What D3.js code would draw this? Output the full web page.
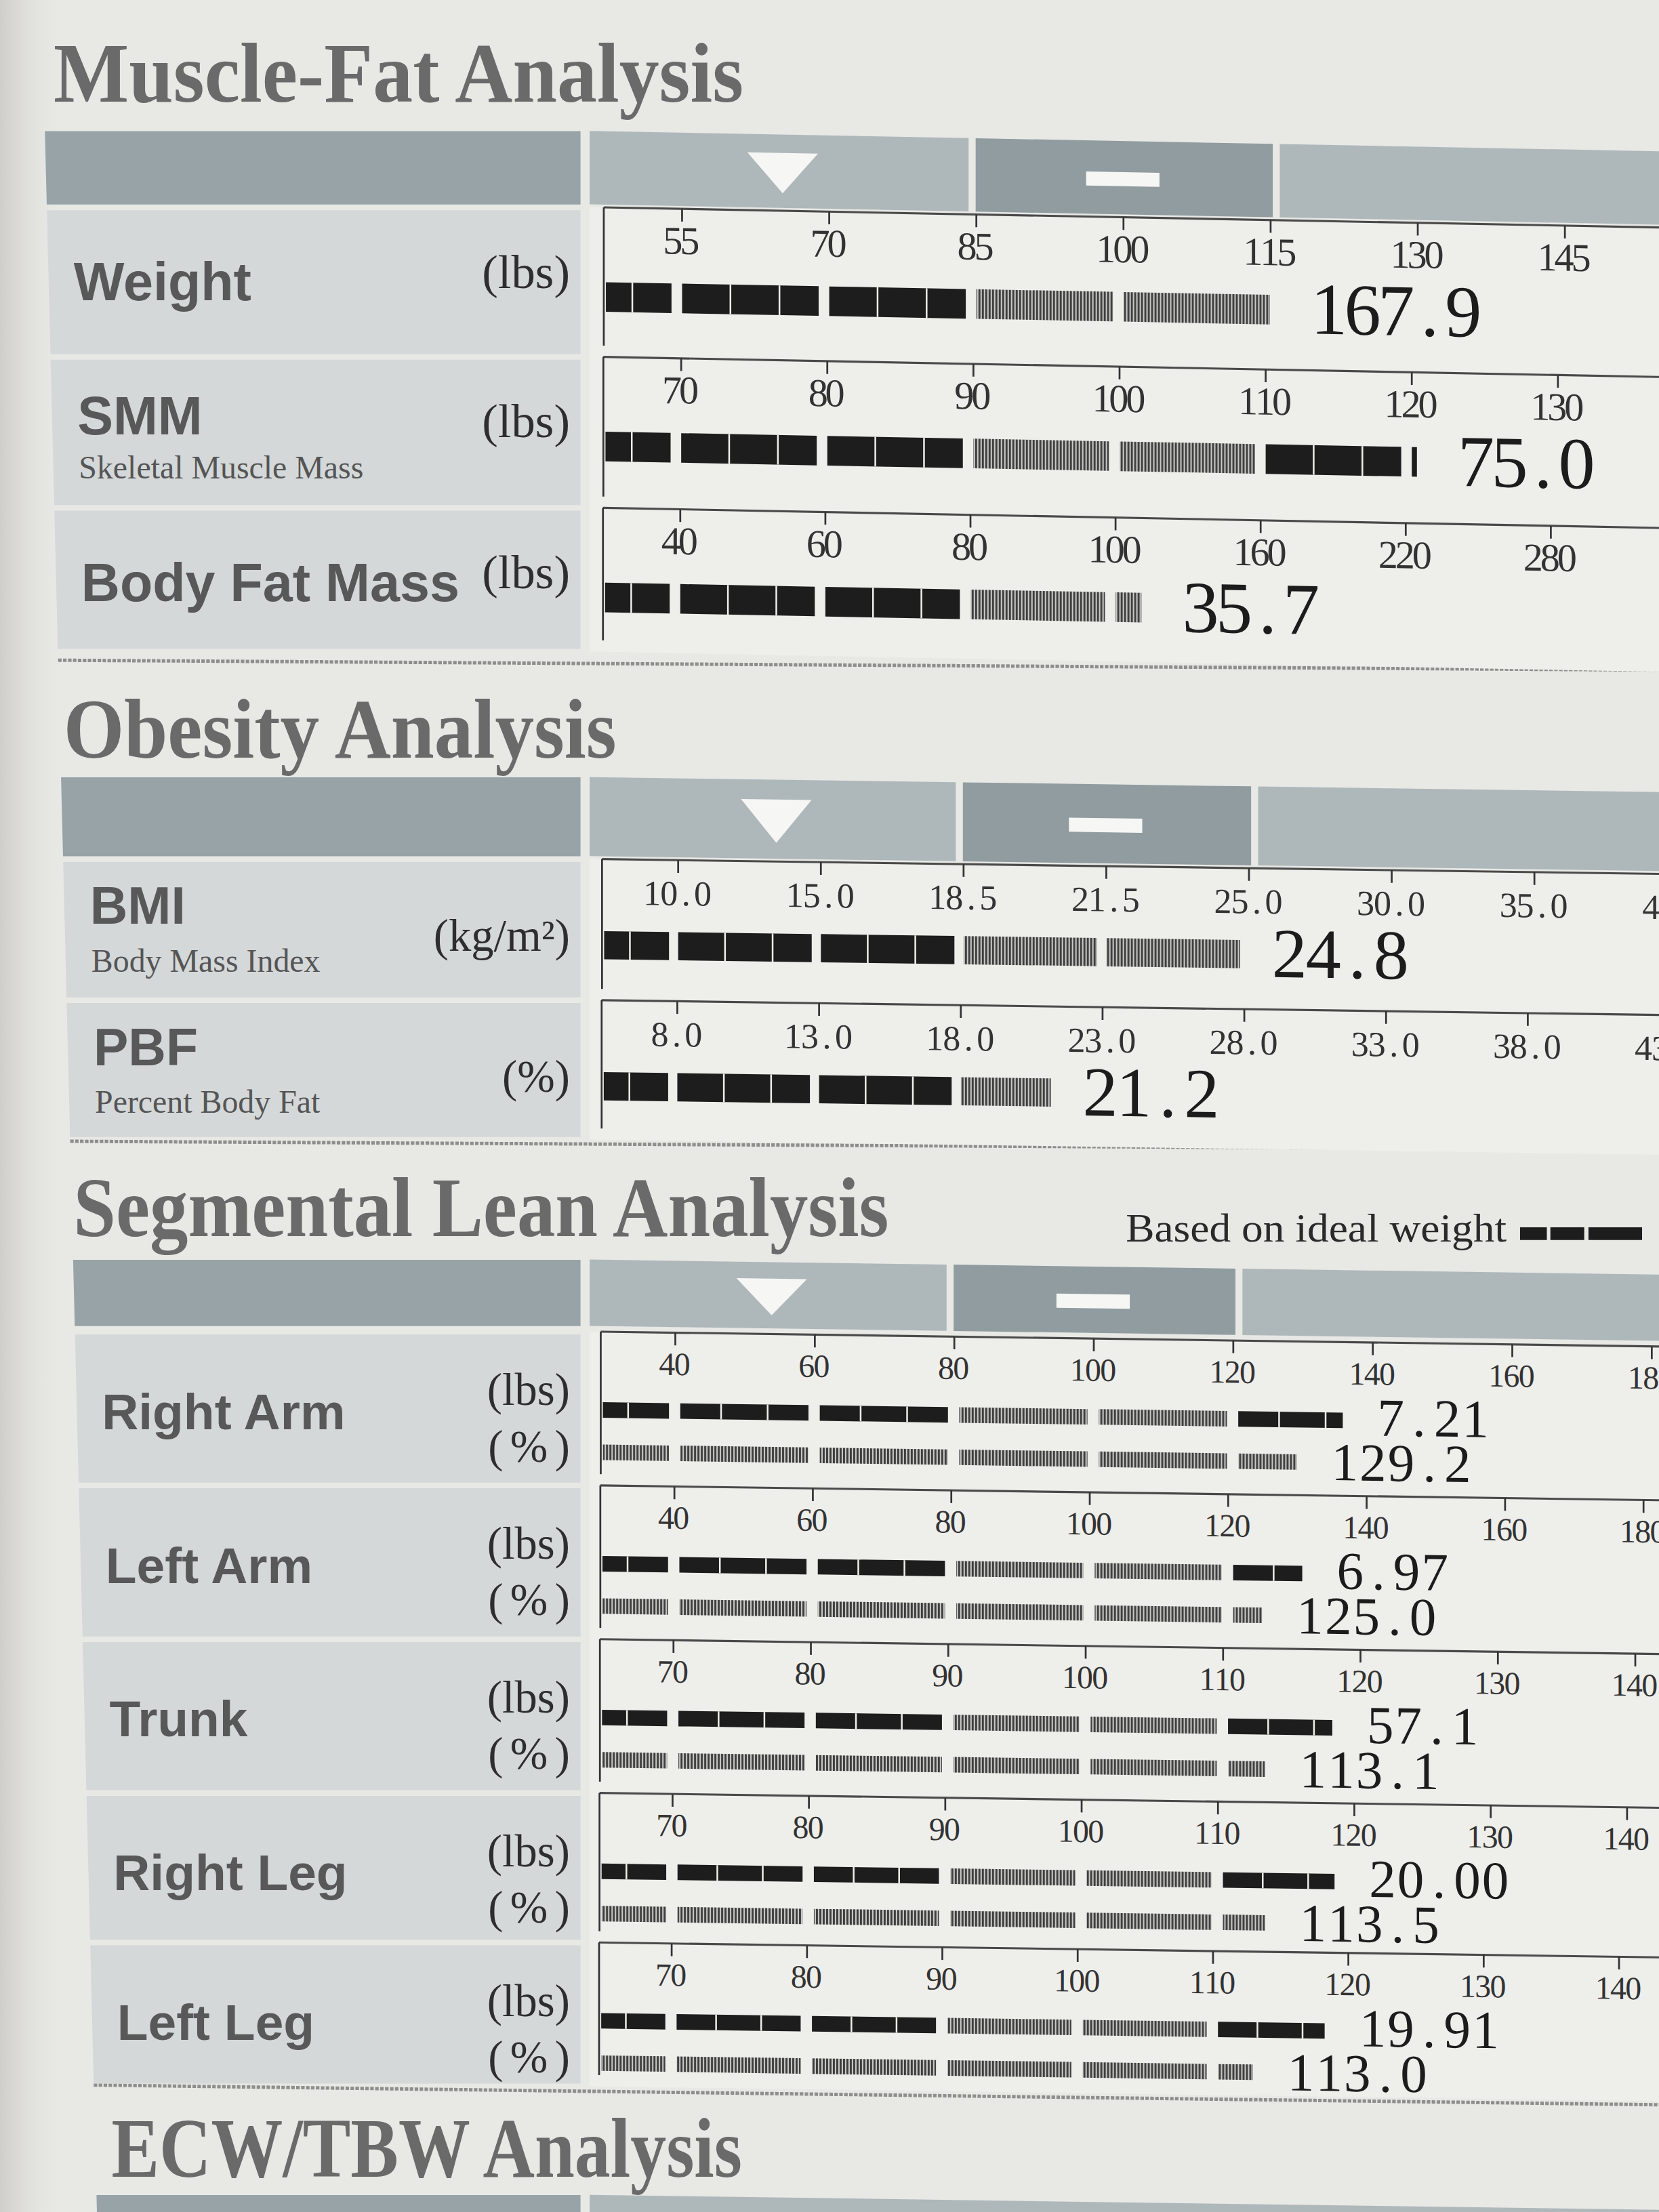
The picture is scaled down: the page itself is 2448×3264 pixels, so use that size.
<!DOCTYPE html>
<html>
<head>
<meta charset="utf-8">
<script src="https://cdnjs.cloudflare.com/ajax/libs/d3/7.8.5/d3.min.js"></script>
<style>
html, body { margin: 0; padding: 0; background: #e8e8e5; }
svg { display: block; }
</style>
</head>
<body>
<div id="sheet"></div>
<script>
// ---- values ----

// Muscle-Fat Analysis
var mfLabels = ["Weight", "SMM", "Body Fat Mass"];
var mfSubLabels = ["", "Skeletal Muscle Mass", ""];
var mfUnits = ["(lbs)", "(lbs)", "(lbs)"];
var mfTicks = [
    [55, 70, 85, 100, 115, 130, 145],
    [70, 80, 90, 100, 110, 120, 130],
    [40, 60, 80, 100, 160, 220, 280]
];
var mfNormal = [[85, 115], [90, 110], [80, 160]];
var mfBarEnd = [115, 120.4, 111];
var mfValues = ["167.9", "75.0", "35.7"];

// Obesity Analysis
var obLabels = ["BMI", "PBF"];
var obSubLabels = ["Body Mass Index", "Percent Body Fat"];
var obUnits = ["(kg/m²)", "(%)"];
var obTicks = [
    [10, 15, 18.5, 21.5, 25, 30, 35, 40],
    [8, 13, 18, 23, 28, 33, 38, 43]
];
var obNormal = [[18.5, 25], [18, 28]];
var obValues = [24.8, 21.2];

// Segmental Lean Analysis
var slLabels = ["Right Arm", "Left Arm", "Trunk", "Right Leg", "Left Leg"];
var slTicks = [
    [40, 60, 80, 100, 120, 140, 160, 180],
    [40, 60, 80, 100, 120, 140, 160, 180],
    [70, 80, 90, 100, 110, 120, 130, 140],
    [70, 80, 90, 100, 110, 120, 130, 140],
    [70, 80, 90, 100, 110, 120, 130, 140]
];
var slNormal = [[80, 120], [80, 120], [90, 110], [90, 110], [90, 110]];
var slLbsBar = [135.8, 130.8, 118.0, 118.6, 118.3];
var slLbsValues = ["7.21", "6.97", "57.1", "20.00", "19.91"];
var slPctValues = [129.2, 125.0, 113.1, 113.5, 113.0];

// ---- layout (drawn in photo units 1176 x 1568, then scaled up) ----
var svgWidth = 2448;
var svgHeight = 3264;
var W = 1176, H = 1568;
var k = svgWidth / W;
var boxRight = 411.5;
var bandStart = 418;

// the sheet is photographed at a slight angle, so things drift a little
function leftEdge(y) { return 32 + 0.025 * (y - 100); }
function axisLeft(T) { return 428 - 0.0027 * (T - 147); }
function firstTick(T) { return 483 - 0.006 * (T - 147); }
function tickStep(T) { return 104.3 - 0.0068 * (T - 147); }

function slab(y0, y1) {
    return [[leftEdge(y0), y0], [boxRight, y0], [boxRight, y1], [leftEdge(y1), y1]].join(" ");
}

function rowScale(ticks, T) {
    return d3.scaleLinear()
        .domain(ticks)
        .range(ticks.map((d, i) => firstTick(T) + i * tickStep(T)));
}

var svg = d3.select("#sheet").append("svg")
    .attr("width", svgWidth)
    .attr("height", svgHeight);

var defs = svg.append("defs");

// vertical hatching used by the in-range blocks
var hatch = defs.append("pattern")
    .attr("id", "hatch")
    .attr("patternUnits", "userSpaceOnUse")
    .attr("width", 2.4)
    .attr("height", 10);
hatch.append("rect").attr("width", 2.4).attr("height", 10).attr("fill", "#c9c9c6");
hatch.append("rect").attr("width", 1.4).attr("height", 10).attr("fill", "#3e3e3e");

var shade = defs.append("linearGradient").attr("id", "shade");
shade.append("stop").attr("offset", "0%").attr("stop-color", "#cfceca");
shade.append("stop").attr("offset", "100%").attr("stop-color", "#e8e8e5").attr("stop-opacity", 0);

var page = svg.append("g")
    .attr("transform", `scale(${k})`);

page.append("rect")
    .attr("width", W)
    .attr("height", H)
    .attr("fill", "#e8e8e5");

page.append("rect")
    .attr("width", 48)
    .attr("height", H)
    .attr("fill", "url(#shade)");

// text laid out one character per cell, like the printer font
function cellText(g, str, xLeft, y, cell, size, color) {
    var t = g.append("text")
        .attr("y", y)
        .attr("font-family", "Liberation Serif, serif")
        .attr("font-size", size)
        .attr("fill", color)
        .attr("text-anchor", "middle");
    t.selectAll("tspan")
        .data(str.split(""))
        .join("tspan")
        .attr("x", (c, i) => xLeft + (i + 0.5) * cell)
        .text(c => c);
    return t;
}

// one bar: blocks between ticks, black outside the normal range, hatched inside
function drawBar(g, x, T, ticks, normal, end, solid, y0, y1, gap) {
    var start = x.invert(axisLeft(T));
    var step = tickStep(T);
    var cuts = [start].concat(ticks.filter(t => t > start && t < end), [end]);
    var blocks = d3.pairs(cuts).map(function(p) {
        var isTickA = ticks.indexOf(p[0]) >= 0;
        var isTickB = p[1] !== end && ticks.indexOf(p[1]) >= 0;
        var inRange = p[0] >= normal[0] && p[1] <= normal[1];
        return {
            x0: isTickA ? x(p[0]) + gap[0] : x(p[0]) + 1.5,
            x1: isTickB ? x(p[1]) - gap[1] : x(p[1]),
            origin: isTickA ? x(p[0]) : x(ticks[0]) - step,
            black: solid && !inRange
        };
    });

    g.selectAll(null)
        .data(blocks)
        .enter()
        .append("rect")
        .attr("x", d => d.x0)
        .attr("y", y0)
        .attr("width", d => Math.max(0.8, d.x1 - d.x0))
        .attr("height", y1 - y0)
        .attr("fill", d => d.black ? "#1d1d1d" : "url(#hatch)");

    // thin white splits inside the black blocks
    var splits = [];
    blocks.filter(d => d.black).forEach(function(d) {
        [1, 2, 3].forEach(function(j) {
            var px = d.origin + j * step / 3;
            if (px > d.x0 + 2 && px < d.x1 - 2) splits.push(px);
        });
    });
    g.selectAll(null)
        .data(splits)
        .enter()
        .append("rect")
        .attr("x", d => d - 0.6)
        .attr("y", y0)
        .attr("width", 1.2)
        .attr("height", y1 - y0)
        .attr("fill", "#eeeeeb");
}

function drawSection(sec, rows) {
    var T0 = sec.tops[0];

    page.append("text")
        .attr("x", sec.titleX)
        .attr("y", sec.titleY)
        .attr("textLength", sec.titleW)
        .attr("lengthAdjust", "spacingAndGlyphs")
        .attr("font-family", "Liberation Serif, serif")
        .attr("font-weight", "bold")
        .attr("font-size", 60)
        .attr("fill", "#6a6a6a")
        .text(sec.title);

    // header band, label side
    page.append("polygon")
        .attr("points", slab(sec.band[0], sec.band[1]))
        .attr("fill", "#97a3a7");

    // dotted rule closing the section
    page.append("line")
        .attr("x1", leftEdge(sec.rule[0]))
        .attr("x2", W)
        .attr("y1", sec.rule[0])
        .attr("y2", sec.rule[1])
        .attr("stroke", "#8e8e8c")
        .attr("stroke-width", 2.4)
        .attr("stroke-dasharray", "2.5,1");

    // the chart side follows the tilt of the sheet
    var chart = page.append("g")
        .attr("transform", `matrix(1,${sec.skew},0,1,0,${-sec.skew * 428})`);

    chart.append("rect")
        .attr("x", bandStart)
        .attr("y", T0)
        .attr("width", W + 60 - bandStart)
        .attr("height", sec.bottom - T0)
        .attr("fill", "#eeeeeb");

    var xb = rowScale(rows[0].ticks, T0);
    var lo = xb(rows[0].normal[0]);
    var hi = xb(rows[0].normal[1]);
    var bandH = sec.band[1] - sec.band[0];

    chart.append("rect")
        .attr("x", bandStart).attr("y", sec.band[0])
        .attr("width", lo - 5 - bandStart).attr("height", bandH)
        .attr("fill", "#aeb8bb");
    chart.append("rect")
        .attr("x", lo).attr("y", sec.band[0])
        .attr("width", hi + 2 - lo).attr("height", bandH)
        .attr("fill", "#909ca0");
    chart.append("rect")
        .attr("x", hi + 7).attr("y", sec.band[0])
        .attr("width", W + 60 - hi).attr("height", bandH)
        .attr("fill", "#aeb8bb");

    var triX = (bandStart + lo) / 2;
    var triTop = sec.band[0] + bandH * 0.25;
    var triBottom = sec.band[0] + bandH * 0.8;
    chart.append("polygon")
        .attr("points", [[triX - 25, triTop], [triX + 25, triTop], [triX, triBottom]].join(" "))
        .attr("fill", "#f6f6f4");

    var dashX = (lo + hi) / 2;
    chart.append("rect")
        .attr("x", dashX - 26)
        .attr("y", sec.band[0] + bandH / 2 - 4)
        .attr("width", 52)
        .attr("height", 10)
        .attr("fill", "#f6f6f4");

    rows.forEach(function(row, i) {
        var T = sec.tops[i];
        var next = i < rows.length - 1 ? sec.tops[i + 1] : sec.bottom;
        var x = rowScale(row.ticks, T);
        var left = axisLeft(T);
        var boxTop = T + 2;
        var boxBottom = next - 2;

        // label box
        page.append("polygon")
            .attr("points", slab(boxTop, boxBottom))
            .attr("fill", "#d4d8d9");

        var lx = leftEdge(boxTop) + 19;
        page.append("text")
            .attr("x", lx)
            .attr("y", boxTop + (row.sub ? sec.labelSubY[0] : sec.labelY))
            .attr("font-family", "Liberation Sans, Arial, sans-serif")
            .attr("font-weight", "bold")
            .attr("font-size", sec.labelFont)
            .attr("fill", "#585858")
            .text(row.label);

        if (row.sub) {
            page.append("text")
                .attr("x", lx + 1)
                .attr("y", boxTop + sec.labelSubY[1])
                .attr("font-family", "Liberation Serif, serif")
                .attr("font-size", 23)
                .attr("fill", "#555")
                .text(row.sub);
        }

        row.units.forEach(function(u, j) {
            var t = page.append("text")
                .attr("x", 404)
                .attr("y", boxTop + sec.unitY[j])
                .attr("text-anchor", "end")
                .attr("font-family", "Liberation Serif, serif")
                .attr("font-size", sec.unitFont)
                .attr("fill", "#2e2e2e")
                .text(u);
            if (u === "(%)" && sec.unitY.length > 1) {
                t.attr("textLength", 58).attr("lengthAdjust", "spacing");
            }
        });

        // scale line along the top of the row and the left edge
        chart.append("line")
            .attr("x1", left).attr("x2", W + 60)
            .attr("y1", T).attr("y2", T)
            .attr("stroke", "#4a4a4a")
            .attr("stroke-width", 1.5);
        chart.append("line")
            .attr("x1", left).attr("x2", left)
            .attr("y1", T).attr("y2", next - 8)
            .attr("stroke", "#333")
            .attr("stroke-width", 1.3);

        var tickAxis = d3.axisBottom(x)
            .tickValues(row.ticks)
            .tickSize(9)
            .tickFormat("");
        var axisG = chart.append("g")
            .attr("transform", `translate(0, ${T})`)
            .call(tickAxis);
        axisG.select(".domain").remove();
        axisG.selectAll(".tick line")
            .attr("stroke", "#333")
            .attr("stroke-width", 1.3);

        row.ticks.forEach(function(t) {
            var s = sec.tickFormat(t);
            cellText(chart, s, x(t) - s.length * sec.tickCell / 2, T + sec.tickY,
                sec.tickCell, sec.tickFont, "#333");
        });

        row.bars.forEach(function(b, j) {
            var pos = sec.bars[j];
            drawBar(chart, x, T, row.ticks, row.normal, b.end, b.solid,
                T + pos.y[0], T + pos.y[1], sec.gap);
            cellText(chart, b.text, x(b.end) + sec.valueGap, T + pos.textY,
                sec.valueCell, sec.valueFont, "#1c1c1c");
        });
    });

    return chart;
}

// ---- rows built from the arrays ----
var mfRows = mfLabels.map((d, i) => ({
    label: d,
    sub: mfSubLabels[i],
    units: [mfUnits[i]],
    ticks: mfTicks[i],
    normal: mfNormal[i],
    bars: [{ end: mfBarEnd[i], solid: true, text: mfValues[i] }]
}));

var obRows = obLabels.map((d, i) => ({
    label: d,
    sub: obSubLabels[i],
    units: [obUnits[i]],
    ticks: obTicks[i],
    normal: obNormal[i],
    bars: [{ end: obValues[i], solid: true, text: d3.format(".1f")(obValues[i]) }]
}));

var slRows = slLabels.map((d, i) => ({
    label: d,
    sub: "",
    units: ["(lbs)", "(%)"],
    ticks: slTicks[i],
    normal: slNormal[i],
    bars: [
        { end: slLbsBar[i], solid: true, text: slLbsValues[i] },
        { end: slPctValues[i], solid: false, text: d3.format(".1f")(slPctValues[i]) }
    ]
}));

drawSection({
    title: "Muscle-Fat Analysis", titleX: 38, titleY: 72, titleW: 489,
    band: [93, 145], tops: [147, 253, 360], bottom: 462, rule: [468, 475], skew: 0.019,
    labelFont: 38, labelY: 64, labelSubY: [53, 84], unitY: [55], unitFont: 34,
    tickFormat: d3.format("d"), tickY: 32, tickFont: 28, tickCell: 12,
    bars: [{ y: [53, 74], textY: 80 }], gap: [0.5, 7],
    valueFont: 52, valueCell: 23.8, valueGap: 30
}, mfRows);

drawSection({
    title: "Obesity Analysis", titleX: 45, titleY: 537, titleW: 392,
    band: [551, 607], tops: [609, 709], bottom: 808, rule: [809, 815], skew: 0.014,
    labelFont: 37, labelY: 60, labelSubY: [44, 78], unitY: [63], unitFont: 32,
    tickFormat: d3.format(".1f"), tickY: 32, tickFont: 25, tickCell: 12,
    bars: [{ y: [51, 71], textY: 77 }], gap: [0.5, 6],
    valueFont: 50, valueCell: 24, valueGap: 23
}, obRows);

drawSection({
    title: "Segmental Lean Analysis", titleX: 52, titleY: 876, titleW: 578,
    band: [893, 940], tops: [944, 1053, 1162, 1271, 1377], bottom: 1479, rule: [1478, 1492], skew: 0.014,
    labelFont: 36, labelY: 67, labelSubY: [67, 67], unitY: [50, 90], unitFont: 32,
    tickFormat: d3.format("d"), tickY: 30, tickFont: 23, tickCell: 10.7,
    bars: [{ y: [50, 61], textY: 66 }, { y: [80, 91], textY: 98 }], gap: [4, 4],
    valueFont: 38, valueCell: 20, valueGap: 24
}, slRows);

// legend of the segmental bars
page.append("text")
    .attr("x", 798)
    .attr("y", 880)
    .attr("textLength", 270)
    .attr("lengthAdjust", "spacingAndGlyphs")
    .attr("font-family", "Liberation Serif, serif")
    .attr("font-size", 28)
    .attr("fill", "#2a2a2a")
    .text("Based on ideal weight");

var swatch = [[0, 19], [21.5, 45.5], [48.5, 86.5]];
page.selectAll(null)
    .data(swatch)
    .enter()
    .append("rect")
    .attr("x", d => 1077.5 + d[0])
    .attr("y", 870)
    .attr("width", d => d[1] - d[0])
    .attr("height", 9)
    .attr("fill", "#1d1d1d");

// the next section starts at the foot of the page
page.append("text")
    .attr("x", 79)
    .attr("y", 1543)
    .attr("textLength", 447)
    .attr("lengthAdjust", "spacingAndGlyphs")
    .attr("font-family", "Liberation Serif, serif")
    .attr("font-weight", "bold")
    .attr("font-size", 60)
    .attr("fill", "#6a6a6a")
    .text("ECW/TBW Analysis");

page.append("polygon")
    .attr("points", slab(1556, 1600))
    .attr("fill", "#97a3a7");

page.append("g")
    .attr("transform", `matrix(1,0.014,0,1,0,${-0.014 * 428})`)
    .append("rect")
    .attr("x", bandStart)
    .attr("y", 1556)
    .attr("width", W + 60 - bandStart)
    .attr("height", 60)
    .attr("fill", "#aeb8bb");
</script>
</body>
</html>
